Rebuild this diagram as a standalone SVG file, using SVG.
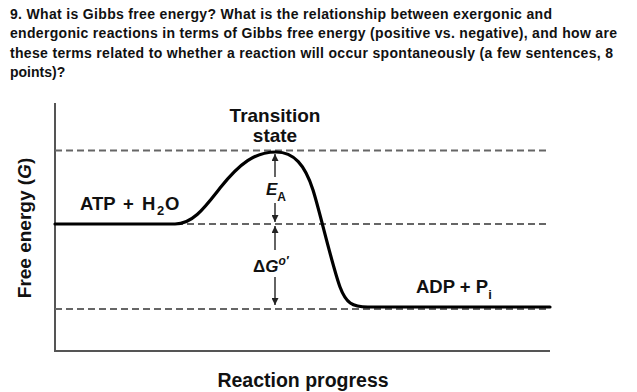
<svg xmlns="http://www.w3.org/2000/svg" width="637" height="392" viewBox="0 0 637 392">
<defs>
<style>
.t{font-family:"Liberation Sans",Arial,sans-serif;font-weight:bold;fill:#111}
.q{font-size:14px}
.lab{font-size:18.5px}
.dash{stroke:#666;stroke-width:2;stroke-dasharray:7 4;fill:none}
.axis{stroke:#555;stroke-width:2;fill:none}
.curve{stroke:#000;stroke-width:3.2;fill:none;stroke-linecap:round;stroke-linejoin:round}
.arr{stroke:#222;stroke-width:1.4;fill:none}
</style>
<marker id="ah" viewBox="0 0 10 10" refX="10" refY="5" markerWidth="7" markerHeight="7" markerUnits="userSpaceOnUse" orient="auto">
<path d="M0,0 L10,5 L0,10 Z" fill="#222"/>
</marker>
</defs>
<rect width="637" height="392" fill="#fff"/>
<g id="question">
<text class="t q" x="10" y="19" textLength="542" lengthAdjust="spacing">9. What is Gibbs free energy? What is the relationship between exergonic and</text>
<text class="t q" x="10" y="38" textLength="607" lengthAdjust="spacing">endergonic reactions in terms of Gibbs free energy (positive vs. negative), and how are</text>
<text class="t q" x="10" y="57.5" textLength="603" lengthAdjust="spacing">these terms related to whether a reaction will occur spontaneously (a few sentences, 8</text>
<text class="t q" x="10" y="76.5">points)?</text>
</g>
<g id="axes">
<path class="axis" d="M55,103 V351 H550"/>
<text class="t" font-size="19" transform="translate(31,228) rotate(-90)" text-anchor="middle">Free energy (<tspan font-style="italic">G</tspan>)</text>
<text class="t" font-size="19.5" x="303" y="387" text-anchor="middle">Reaction progress</text>
</g>
<g id="levels">
<line class="dash" x1="55" y1="150.5" x2="550" y2="150.5"/>
<line class="dash" x1="55" y1="224" x2="550" y2="224"/>
<line class="dash" x1="55" y1="309" x2="550" y2="309"/>
</g>
<g id="connectors">
<path class="curve" d="M55,224 H175 C193,224 205,207 220,188 C240,163 255,152 276,152 C294,152 305,165 313,190 C320,212 332,265 340,287 C346,303 352,307 368,307 H550"/>
<line class="arr" x1="275" y1="177" x2="275" y2="154" marker-end="url(#ah)"/>
<line class="arr" x1="275" y1="203" x2="275" y2="222" marker-end="url(#ah)"/>
<line class="arr" x1="275" y1="250" x2="275" y2="226" marker-end="url(#ah)"/>
<line class="arr" x1="275" y1="277" x2="275" y2="305" marker-end="url(#ah)"/>
</g>
<g id="transition-state">
<text class="t" font-size="19" x="275" y="122" text-anchor="middle">Transition</text>
<text class="t" font-size="19" x="275" y="142" text-anchor="middle">state</text>
</g>
<g id="ea">
<text class="t" font-size="17" x="266" y="195" font-style="italic">E<tspan font-size="12" font-style="normal" dy="6">A</tspan></text>
</g>
<g id="dg">
<text class="t" font-size="17" x="253" y="272">Δ<tspan font-style="italic">G</tspan><tspan font-size="12" dy="-7" font-style="italic">o′</tspan></text>
</g>
<g id="atp">
<text class="t lab" y="210"><tspan x="80">ATP</tspan><tspan x="123">+</tspan><tspan x="142">H</tspan><tspan font-size="13" x="157" dy="5">2</tspan><tspan x="165" dy="-5">O</tspan></text>
</g>
<g id="adp">
<text class="t lab" x="416" y="293">ADP + P<tspan font-size="13" dy="6">i</tspan></text>
</g>
</svg>
